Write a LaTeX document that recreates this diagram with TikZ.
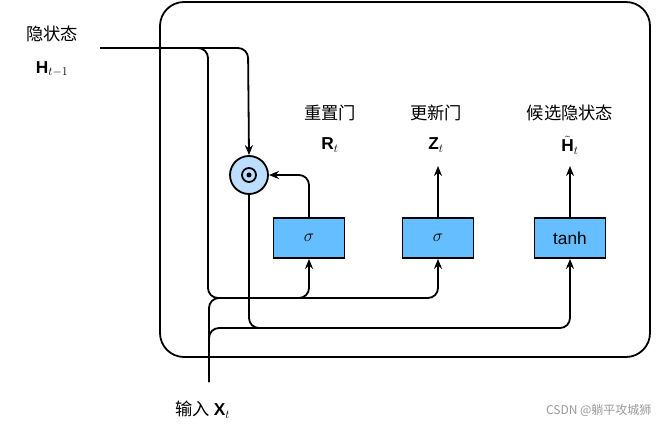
\documentclass[tikz,border=0pt]{standalone}
\usepackage{fontspec}
\setmainfont{Liberation Sans}
\newfontfamily\cjk{Noto Sans CJK SC}
\usepackage{tikz}
\usetikzlibrary{arrows.meta,positioning}
\definecolor{gatefill}{RGB}{100,190,255}
\definecolor{opfill}{RGB}{190,222,255}
\tikzset{>/.tip={Stealth[length=10pt,width=8pt]}}
\tikzset{gate/.style={draw,line width=1.8pt,fill=gatefill,minimum width=71pt,minimum height=40pt,inner sep=0pt,font=\LARGE},
  lbl/.style={font=\cjk\LARGE},
  sym/.style={font=\LARGE},
  wire/.style={line width=1.8pt,rounded corners=10pt}}
\begin{document}
\begin{tikzpicture}[x=1pt,y=-1pt]
      \useasboundingbox (0,0) rectangle (669,427);
      \draw[line width=1.8pt,rounded corners=24pt] (160,2) rectangle (650,357);
      % gates
      \node[gate](R) at (309,238){$\sigma$};
      \node[gate](Z) at (438,238){$\sigma$};
      \node[gate](Ht) at (570,238){tanh};
      \node[draw,circle,line width=1.8pt,fill=opfill,minimum size=38pt,inner sep=0pt](mul) at (249,175){};
      \fill (mul) circle (2.5pt);
      \draw[line width=1.8pt] (mul) circle (7pt);
      % labels
      \node[lbl](Rl) at (330,113){重置门};
      \node[sym](Rs) at (330,145){$\mathbf{R}_t$};
      \node[lbl](Zl) at (436,113){更新门};
      \node[sym](Zs) at (436,145){$\mathbf{Z}_t$};
      \node[lbl](Hl) at (570,113){候选隐状态};
      \node[sym](Hs) at (570,145){$\tilde{\mathbf{H}}_t$};
      \node[lbl](Hin) at (52,34){隐状态};
      \node[sym](Hins) at (52,69){$\mathbf{H}_{t-1}$};
      \node[lbl,anchor=west](Xl) at (172,410){输入 $\mathbf{X}_t$};
      \node[font=\cjk\large,text=black!40,anchor=east](wm) at (655,410){CSDN @躺平攻城狮};
      \coordinate(hin) at (100,48);
      \coordinate(xin) at (209,382);
      \coordinate(Zt) at (438,166);
      \coordinate(Htt) at (570,166);
      % wires
      \draw[wire,->] (hin) -- (248,48) -- (mul.north);
      \draw[wire,->] (hin) -- (208,48) -- (208,298) -- (309,298) -- (R.south);
      \draw[wire,->] (xin) -- (209,298) -- (438,298) -- (Z.south);
      \draw[wire,->] (xin) -- (209,328) -- (570,328) -- (Ht.south);
      \draw[wire] (mul.south) -- (249,328) -- (300,328);
      \draw[wire,->] (R.north) -- (309,175) -- (mul.east);
      \draw[wire,->] (Z.north) -- (Zt);
      \draw[wire,->] (Ht.north) -- (Htt);
\end{tikzpicture}
\end{document}
